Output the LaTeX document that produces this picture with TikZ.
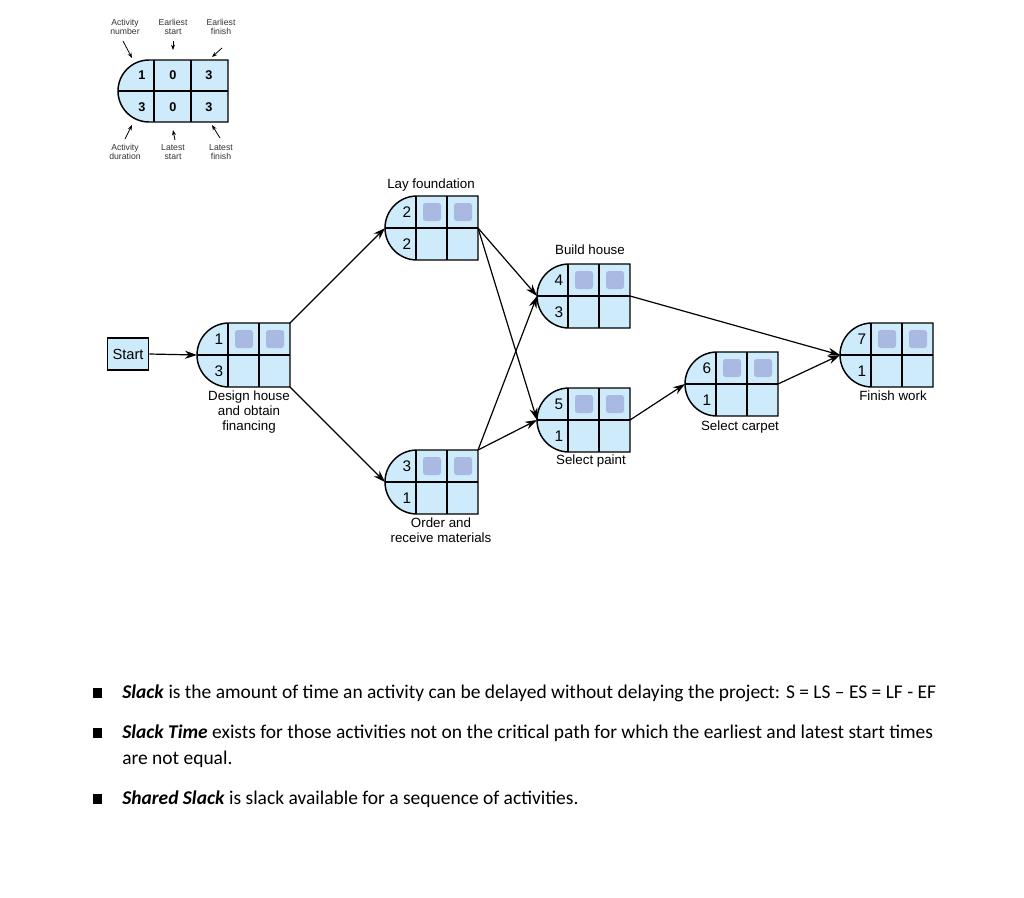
\documentclass[tikz,border=0pt]{standalone}
\usepackage{fontspec}
\setmainfont{Liberation Sans}
\newfontfamily\calfont{Carlito}
\usetikzlibrary{arrows.meta}
\definecolor{cellblue}{RGB}{205,235,250}
\definecolor{slot}{RGB}{170,185,225}
\tikzset{
  box/.style={draw=black,line width=1.1pt,fill=cellblue},
  conn/.style={draw=black,line width=0.9pt,-{Stealth[length=9pt,width=6pt]}},
  lab/.style={font=\fontsize{10}{11}\selectfont,align=center,inner sep=0pt},
  num/.style={font=\fontsize{11.5}{12}\selectfont,inner sep=0pt},
  tiny/.style={font=\fontsize{6.5}{7}\selectfont,align=center,inner sep=0pt,text=black!80},
  tarr/.style={draw=black,line width=0.6pt,-{Stealth[length=4pt,width=3pt]}},
  bul/.style={font=\calfont\fontsize{14.6}{17}\selectfont,anchor=west,inner sep=0pt,align=left},
}
% \act{name}{x}{y}{number}{duration}
\newcommand{\act}[5]{%
  \path[box] ({#2+32},{-#3}) -- ({#2+93},{-#3}) -- ({#2+93},{-#3-64}) -- ({#2+32},{-#3-64})
     arc[start angle=270,end angle=90,radius=32] -- cycle;
  \draw[line width=1.1pt] ({#2},{-#3-32}) -- ({#2+93},{-#3-32});
  \draw[line width=1.1pt] ({#2+31},{-#3}) -- ({#2+31},{-#3-64});
  \draw[line width=1.1pt] ({#2+62},{-#3}) -- ({#2+62},{-#3-64});
  \fill[slot,rounded corners=2pt] ({#2+38},{-#3-7}) rectangle ({#2+56},{-#3-25});
  \fill[slot,rounded corners=2pt] ({#2+69},{-#3-7}) rectangle ({#2+87},{-#3-25});
  \node[num] (#1-n) at ({#2+22},{-#3-16}) {#4};
  \node[num] (#1-d) at ({#2+22},{-#3-48}) {#5};
  \coordinate (#1-w) at ({#2},{-#3-32});
  \coordinate (#1-ne) at ({#2+93},{-#3});
  \coordinate (#1-e) at ({#2+93},{-#3-32});
  \coordinate (#1-se) at ({#2+93},{-#3-64});
}
\begin{document}
\begin{tikzpicture}[x=0.75pt,y=0.75pt]
\useasboundingbox (0,0) rectangle (1024,-897);
% legend
\path[box] (149,-60) -- (228,-60) -- (228,-122) -- (149,-122) arc[start angle=270,end angle=90,radius=31] -- cycle;
\draw[line width=1.1pt] (118,-91) -- (228,-91) (154,-60) -- (154,-122) (191,-60) -- (191,-122);
\foreach \x/\a/\b in {142/1/3,173/0/0,209/3/3}{
  \node[num,font=\bfseries\fontsize{9.5}{10}\selectfont] at (\x,-75) {\a};
  \node[num,font=\bfseries\fontsize{9.5}{10}\selectfont] at (\x,-107) {\b};}
\node[tiny] (l1) at (125,-27) {Activity\\number};
\node[tiny] (l2) at (173,-27) {Earliest\\start};
\node[tiny] (l3) at (221,-27) {Earliest\\finish};
\node[tiny] (l4) at (125,-152) {Activity\\duration};
\node[tiny] (l5) at (173,-152) {Latest\\start};
\node[tiny] (l6) at (221,-152) {Latest\\finish};
\coordinate (t1) at (132,-58); \coordinate (t2) at (173,-50);
\coordinate (t3) at (212,-57); \coordinate (t4) at (132,-125);
\coordinate (t5) at (173,-130); \coordinate (t6) at (212,-125);
\draw[tarr] (123,-41) -- (t1);
\draw[tarr] (173,-41) -- (t2);
\draw[tarr] (222,-48) -- (t3);
\draw[tarr] (125,-139) -- (t4);
\draw[tarr] (175,-140) -- (t5);
\draw[tarr] (220,-138) -- (t6);
% start
\node[draw=black,line width=1.1pt,fill=cellblue,minimum width=31pt,minimum height=24pt,inner sep=0pt,font=\fontsize{11}{12}\selectfont] (start) at (128,-354) {Start};
% activities
\act{des}{197}{323}{1}{3}
\act{lay}{385}{196}{2}{2}
\act{bui}{537}{264}{4}{3}
\act{ord}{385}{450}{3}{1}
\act{pai}{537}{388}{5}{1}
\act{car}{685}{352}{6}{1}
\act{fin}{840}{323}{7}{1}
\node[lab] at (431,-185) {Lay foundation};
\node[lab] at (590,-250) {Build house};
\node[lab] at (249,-412) {Design house\\and obtain\\financing};
\node[lab] at (441,-530) {Order and\\receive materials};
\node[lab] at (591,-461) {Select paint};
\node[lab] at (740,-427) {Select carpet};
\node[lab] at (893,-396) {Finish work};
% connectors
\draw[conn] (start.east) -- (des-w);
\draw[conn] (des-ne) -- (lay-w);
\draw[conn] (des-se) -- (ord-w);
\draw[conn] (lay-e) -- (bui-w);
\draw[conn] (lay-e) -- (pai-w);
\draw[conn] (ord-ne) -- (bui-w);
\draw[conn] (ord-ne) -- (pai-w);
\draw[conn] (bui-e) -- (fin-w);
\draw[conn] (pai-e) -- (car-w);
\draw[conn] (car-e) -- (fin-w);
% bullets
\foreach \y in {693,733,799}{\fill (93,-\y+5) rectangle (102,-\y-5);}
\node[bul] (b1) at (122,-693) {\textbf{\textit{Slack}} is the amount of time an activity can be delayed without delaying the project: S = LS – ES = LF - EF};
\node[bul] (b2) at (122,-733) {\textbf{\textit{Slack Time}} exists for those activities not on the critical path for which the earliest and latest start times};
\node[bul] (b3) at (122,-759) {are not equal.};
\node[bul] (b4) at (122,-799) {\textbf{\textit{Shared Slack}} is slack available for a sequence of activities.};
\end{tikzpicture}
\end{document}
